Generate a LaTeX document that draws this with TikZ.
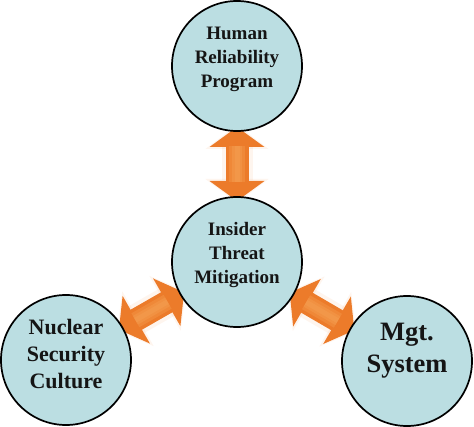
\documentclass[tikz,border=0pt]{standalone}
\usepackage{fontspec}
\setmainfont{Liberation Serif}
\usetikzlibrary{arrows.meta,backgrounds}
\definecolor{circfill}{HTML}{BBDEE2}
\definecolor{arrorange}{HTML}{EC7B2A}
\definecolor{arrlight}{HTML}{F7A75A}
\definecolor{txt}{HTML}{151515}
\begin{document}
\begin{tikzpicture}[x=1pt,y=-1pt,
  circ/.style={circle,draw=black,line width=1.7pt,fill=circfill,minimum size=130pt,inner sep=0pt},
  lbl/.style={text=txt,align=center,inner sep=0pt},
  dblarrow/.style={draw=arrorange,line width=23pt,shorten <=61pt,shorten >=61pt,
    {Triangle[length=20pt,width=54pt]}-{Triangle[length=20pt,width=54pt]}},
  glow/.style={draw=arrorange,opacity=.08,line width=31pt,shorten <=59pt,shorten >=59pt,
    {Triangle[length=24pt,width=62pt]}-{Triangle[length=24pt,width=62pt]}},
  shaftlight/.style={draw=arrlight,line width=#1,opacity=.3,shorten <=80pt,shorten >=80pt}]
\useasboundingbox (0,0) rectangle (474,427);
\node[circ] (hrp) at (237,66) {};
\node[circ] (itm) at (237,262) {};
\node[circ] (nsc) at (66,360) {};
\node[circ] (mgt) at (407,361) {};
\node[lbl,font=\bfseries\fontsize{19}{24}\selectfont] (hrpt) at (237,59) {Human\\Reliability\\Program};
\node[lbl,font=\bfseries\fontsize{19}{24}\selectfont] (itmt) at (237,255) {Insider\\Threat\\Mitigation};
\node[lbl,font=\bfseries\fontsize{22}{27}\selectfont] (nsct) at (66,354) {Nuclear\\Security\\Culture};
\node[lbl,font=\bfseries\fontsize{26.5}{32}\selectfont] (mgtt) at (407,351) {Mgt.\\System};
\begin{scope}[on background layer]
  \foreach \a/\b in {hrp/itm,nsc/itm,itm/mgt}{
    \draw[glow] (\a.center) -- (\b.center);
    \draw[dblarrow] (\a.center) -- (\b.center);
    \draw[shaftlight=16pt] (\a.center) -- (\b.center);
    \draw[shaftlight=10pt] (\a.center) -- (\b.center);
    \draw[shaftlight=5pt] (\a.center) -- (\b.center);
  }
\end{scope}
\end{tikzpicture}
\end{document}
